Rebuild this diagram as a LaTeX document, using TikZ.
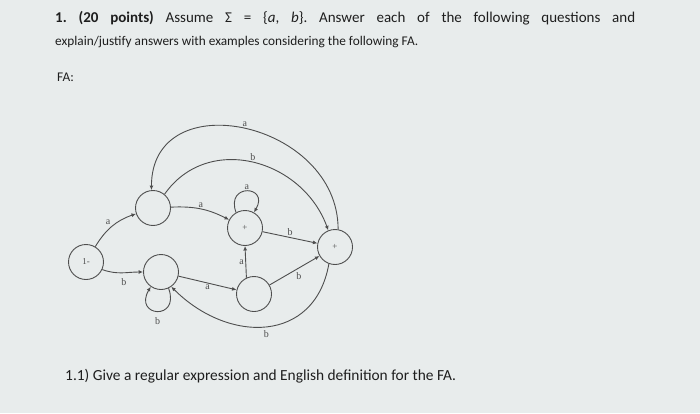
\documentclass[tikz,border=0pt]{standalone}
\usepackage{fontspec}
\setmainfont{Carlito}
\newfontfamily\fafont{Liberation Serif}
\usetikzlibrary{arrows.meta, positioning}
\definecolor{paper}{HTML}{E8ECEC}
\definecolor{ink}{HTML}{1E1E1E}
\definecolor{edgegray}{HTML}{4E4E4E}

\begin{document}
\begin{tikzpicture}[x=1pt, y=1pt,
  state/.style={circle, draw=edgegray, line width=0.9pt, minimum size=35pt, inner sep=0pt, font=\fafont\fontsize{9}{9}\selectfont, text=edgegray},
  arrow/.style={-{Latex[length=4.5pt, width=4pt]}, line width=0.9pt, draw=edgegray},
  lbl/.style={font=\fafont\fontsize{10}{10}\selectfont, text=edgegray, inner sep=1.5pt},
  txt/.style={font=\fontsize{13.3}{13.3}\selectfont, text=ink, inner sep=0pt, anchor=base west}
]
  \fill[paper] (0,0) rectangle (700,413);

  % question text
  \node[txt, font=\fontsize{15}{15}\selectfont] (line1) at (55,390) {\frenchspacing\makebox[580pt][s]{\textbf{1. (20 points)} Assume Σ = \{\textit{a}, \textit{b}\}. Answer each of the following questions and}};
  \node[txt] (line2) at (55,367) {explain/justify answers with examples considering the following FA.};
  \node[txt] (fa) at (57,331) {FA:};
  \node[txt, font=\fontsize{15.4}{15.4}\selectfont] (q11) at (65,33) {1.1) Give a regular expression and English definition for the FA.};

  % states
  \node[state] (s) at (86,151) {1-};
  \node[state] (q1) at (153,205) {};
  \node[state] (q2) at (161,141) {};
  \node[state] (p1) at (245,185) {+};
  \node[state] (q3) at (254,119) {};
  \node[state] (p2) at (335,166) {+};

  % transitions
  \draw[arrow] (s) to[bend left=20] node[lbl, above left] {a} (q1);
  \draw[arrow] (s.-25) to[out=-20, in=180] node[lbl, below left=4pt and -6pt] {b} (q2);
  \draw[arrow] (q2.-65) to[out=-70, in=-120, looseness=5] node[lbl, below=4pt] {b} (q2.-125);
  \draw[arrow] (q1) to[bend left=15] node[lbl, above] {a} (p1);
  \draw[arrow] (p1.120) to[out=110, in=60, looseness=4.5] node[lbl, above] {a} (p1.60);
  \draw[arrow] (p1) -- node[lbl, above] {b} (p2);
  \draw[arrow] (q2) -- node[lbl, below] {a} (q3);
  \draw[arrow] (q3.115) -- node[lbl, left] {a} (p1.south);
  \draw[arrow] (q3) -- node[lbl, below right] {b} (p2);
  \draw[arrow] (p2.-110) to[out=-100, in=-45, looseness=1.3] node[lbl, below=2pt] {b} (q2.-55);
  \draw[arrow] (p2.80) to[out=90, in=90, looseness=1.45] node[lbl, above] {a} (q1.95);
  \draw[arrow] (q1.50) to[out=55, in=110, looseness=1.15] node[lbl, above] {b} (p2.112);
\end{tikzpicture}
\end{document}
